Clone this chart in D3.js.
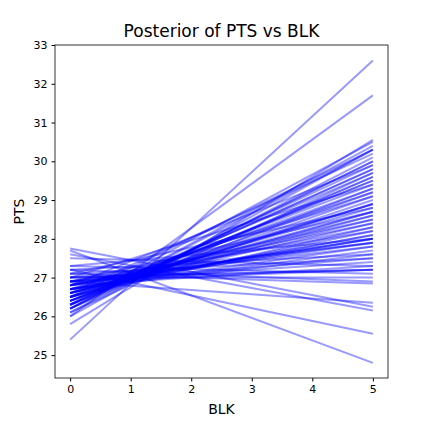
<!DOCTYPE html>
<html><head><meta charset="utf-8">
<script src="https://cdn.jsdelivr.net/npm/d3@7"></script>
<style>body{margin:0;background:#fff}</style>
</head><body>
<svg id="chart" width="432" height="432"></svg>
<script>
// PTS at BLK=0 and PTS at BLK=5 for each posterior draw
var startPts = [25.4,26.0,27.7,27.2,27.6,26.9,26.3,26.5,26.8,27.0,26.6,26.2,26.4,26.7,27.1,26.9,26.5,26.3,26.8,26.6,
  27.3,26.1,26.7,26.9,26.4,27.0,26.2,26.6,26.8,26.5,27.2,26.3,26.7,26.9,26.4,26.6,27.1,26.8,26.5,26.2,
  26.7,26.9,27.0,26.3,26.6,26.8,26.4,27.2,26.5,26.7,25.8,27.75,27.5,26.1,26.6,26.9,26.3,26.8,27.0,26.5,
  26.4,26.7,26.2,26.9,26.6,27.1,26.3,26.8,26.5,26.7,26.0,27.3,26.6,26.4,26.9,26.2,26.8,26.5,27.0,26.7];
var endPts = [32.6,31.7,24.8,25.55,26.15,26.35,30.5,30.3,29.9,29.4,30.2,30.4,29.7,29.1,28.8,28.7,29.3,29.8,28.4,28.9,
  28.0,30.1,28.6,28.2,29.5,27.9,30.0,29.2,28.5,28.9,27.6,29.6,28.1,27.8,29.0,28.7,27.5,28.3,29.4,30.3,
  28.0,27.4,27.2,29.9,28.8,27.9,29.1,26.9,28.6,27.7,30.55,26.25,27.3,29.7,28.4,27.2,29.3,28.0,27.0,28.9,
  29.5,27.6,30.0,27.9,28.2,26.85,29.8,27.3,28.7,28.1,30.3,27.1,28.5,29.2,27.5,29.6,28.0,28.3,27.2,27.8];

var xTicks = [0,1,2,3,4,5];
var yTicks = [25,26,27,28,29,30,31,32,33];

var svg = d3.select("#chart");
var mLeft = 55, mRight = 388, mTop = 45, mBottom = 378;

var x = d3.scaleLinear().domain([-0.25, 5.25]).range([mLeft, mRight]);
var y = d3.scaleLinear().domain([24.41, 33]).range([mBottom, mTop]);

svg.selectAll("line.draw")
  .data(startPts)
  .enter().append("line")
  .attr("class", "draw")
  .attr("x1", x(0)).attr("x2", x(5))
  .attr("y1", function(d) { return y(d); })
  .attr("y2", function(d, i) { return y(endPts[i]); })
  .style("stroke", "blue").style("stroke-opacity", 0.4).style("stroke-width", 2);

svg.append("g").attr("transform", "translate(0," + mBottom + ")")
  .call(d3.axisBottom(x).tickValues(xTicks).tickFormat(d3.format("d")).tickSize(3.5).tickPadding(4))
  .call(function(g) { g.select(".domain").remove(); });
svg.append("g").attr("transform", "translate(" + mLeft + ",0)")
  .call(d3.axisLeft(y).tickValues(yTicks).tickFormat(d3.format("d")).tickSize(3.5).tickPadding(4))
  .call(function(g) { g.select(".domain").remove(); });
svg.selectAll(".tick text").style("font-family", "DejaVu Sans").style("font-size", "11px").attr("fill", "#000");

svg.append("rect").attr("x", mLeft).attr("y", mTop)
  .attr("width", mRight - mLeft).attr("height", mBottom - mTop)
  .style("fill", "none").style("stroke", "#000").style("stroke-width", 0.8);

svg.append("text").attr("x", (mLeft + mRight) / 2).attr("y", 37)
  .attr("text-anchor", "middle").style("font-family", "DejaVu Sans").style("font-size", "17px")
  .text("Posterior of PTS vs BLK");
svg.append("text").attr("x", (mLeft + mRight) / 2).attr("y", 414)
  .attr("text-anchor", "middle").style("font-family", "DejaVu Sans").style("font-size", "14px")
  .text("BLK");
svg.append("text").attr("transform", "translate(24," + (mTop + mBottom) / 2 + ") rotate(-90)")
  .attr("text-anchor", "middle").style("font-family", "DejaVu Sans").style("font-size", "14px")
  .text("PTS");
</script>
</body></html>
